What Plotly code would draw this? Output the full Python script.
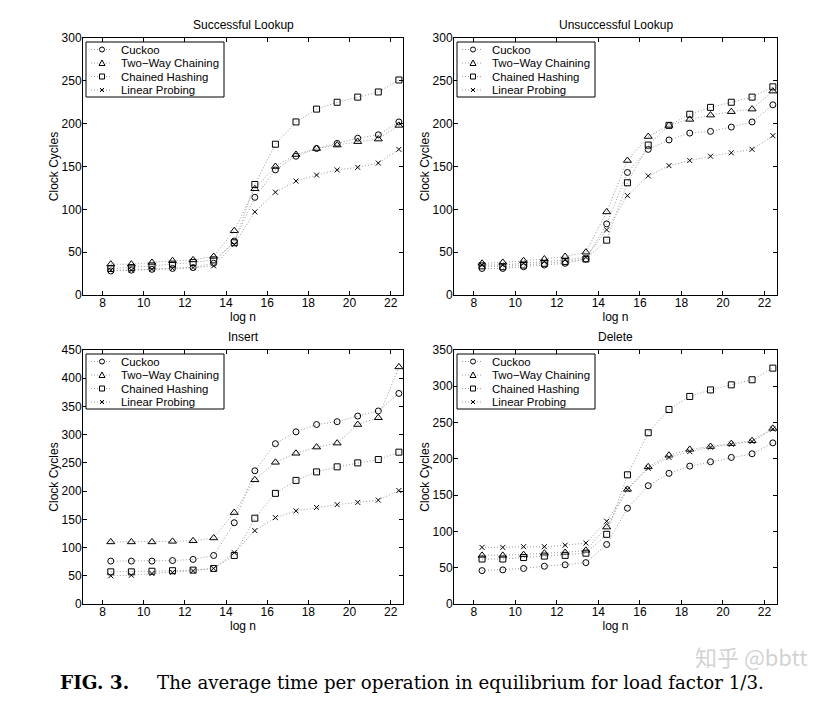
import plotly.graph_objects as go

log_n = [8.4, 9.4, 10.4, 11.4, 12.4, 13.4, 14.4, 15.4, 16.4, 17.4, 18.4, 19.4, 20.4, 21.4, 22.4]
series_names = ["Cuckoo", "Two\u2212Way Chaining", "Chained Hashing", "Linear Probing"]

succ_cuckoo = [28, 29, 30, 31, 32, 37, 63, 114, 146, 162, 171, 177, 183, 187, 202]
succ_twoway = [36, 36, 38, 40, 41, 45, 75, 124, 150, 164, 171, 175, 179, 182, 198]
succ_chained = [31, 32, 34, 36, 38, 41, 61, 129, 176, 202, 217, 225, 231, 237, 251]
succ_linear = [29, 29, 30, 31, 32, 34, 59, 97, 120, 133, 140, 146, 149, 154, 170]

unsucc_cuckoo = [31, 31, 33, 35, 37, 42, 83, 143, 170, 181, 189, 191, 196, 202, 222]
unsucc_twoway = [37, 38, 40, 42, 45, 50, 97, 157, 185, 198, 205, 210, 214, 217, 238]
unsucc_chained = [34, 33, 35, 37, 39, 42, 64, 131, 175, 198, 211, 219, 225, 231, 243]
unsucc_linear = [35, 35, 37, 39, 41, 44, 76, 116, 139, 151, 157, 162, 166, 170, 186]

ins_cuckoo = [76, 76, 76, 77, 79, 86, 144, 236, 284, 305, 318, 323, 333, 342, 373]
ins_twoway = [110, 110, 110, 111, 112, 117, 162, 220, 251, 267, 278, 285, 318, 330, 420]
ins_chained = [57, 57, 58, 59, 60, 63, 86, 152, 196, 219, 234, 243, 250, 256, 269]
ins_linear = [50, 51, 54, 56, 59, 63, 91, 130, 153, 165, 171, 176, 180, 184, 201]

del_cuckoo = [46, 47, 49, 52, 54, 57, 82, 132, 163, 180, 190, 196, 202, 207, 222]
del_twoway = [67, 67, 68, 70, 71, 74, 106, 158, 189, 205, 213, 217, 221, 225, 242]
del_chained = [62, 62, 64, 66, 67, 70, 96, 178, 236, 268, 286, 295, 302, 309, 325]
del_linear = [78, 78, 79, 79, 81, 84, 114, 158, 187, 202, 210, 216, 220, 224, 241]

panel_titles = ["Successful Lookup", "Unsuccessful Lookup", "Insert", "Delete"]
panel_data = [
    [succ_cuckoo, succ_twoway, succ_chained, succ_linear],
    [unsucc_cuckoo, unsucc_twoway, unsucc_chained, unsucc_linear],
    [ins_cuckoo, ins_twoway, ins_chained, ins_linear],
    [del_cuckoo, del_twoway, del_chained, del_linear],
]
y_max = [300, 300, 450, 350]
x_ticks = [8, 10, 12, 14, 16, 18, 20, 22]
caption_label = "FIG. 3."
caption_text = "The average time per operation in equilibrium for load factor 1/3."
watermark = "知乎 @bbtt"

W, H = 828, 711
# plot area boxes in pixels: (left, right, top, bottom)
boxes = [(83, 403, 38, 295), (454, 777, 38, 295), (83, 403, 350, 604), (454, 777, 350, 604)]
symbols = ["circle-open", "triangle-up-open", "square-open", "x-thin-open"]
sizes = [6, 7, 6, 5]
LINE_COLOR = "#9a9a9a"
DOT = "1px,2px"

FONT = "Liberation Sans, Arial, sans-serif"


def px(xp):
    return xp / W


def py(yp):
    return 1 - yp / H


fig = go.Figure()
annotations = []
shapes = []
layout = dict(
    width=W, height=H,
    margin=dict(l=0, r=0, t=0, b=0, pad=0, autoexpand=False),
    paper_bgcolor="white", plot_bgcolor="white",
    font=dict(family=FONT, size=12, color="black"),
    showlegend=False,
)

for i in range(4):
    xa = "x" if i == 0 else f"x{i+1}"
    ya = "y" if i == 0 else f"y{i+1}"
    for k in range(4):
        fig.add_trace(go.Scatter(
            x=log_n, y=panel_data[i][k], name=series_names[k],
            mode="lines+markers", xaxis=xa, yaxis=ya,
            line=dict(color=LINE_COLOR, width=1, dash=DOT),
            marker=dict(symbol=symbols[k], size=sizes[k], color="black",
                        line=dict(color="black", width=1)),
        ))
    l, r, t, b = boxes[i]
    axk = "xaxis" if i == 0 else f"xaxis{i+1}"
    ayk = "yaxis" if i == 0 else f"yaxis{i+1}"
    layout[axk] = dict(
        domain=[px(l), px(r)], range=[7.05, 22.6], anchor=ya,
        tickvals=x_ticks, ticks="inside", ticklen=4, tickcolor="black",
        showline=True, linecolor="black", linewidth=1, mirror="ticks",
        showgrid=False, zeroline=False, automargin=False, ticklabelstandoff=-3,
        title=dict(text="log n", font=dict(size=12), standoff=0),
        tickfont=dict(size=12),
    )
    layout[ayk] = dict(
        domain=[py(b), py(t)], range=[0, y_max[i]], anchor=xa,
        dtick=50, ticks="inside", ticklen=4, tickcolor="black",
        showline=True, linecolor="black", linewidth=1, mirror="ticks",
        showgrid=False, zeroline=False, automargin=False, ticklabelstandoff=-2,
        title=dict(text="Clock Cycles", font=dict(size=12), standoff=0),
        tickfont=dict(size=12),
    )
    annotations.append(dict(
        text=panel_titles[i], x=px((l + r) / 2), y=py(t - 13),
        xref="paper", yref="paper", showarrow=False,
        font=dict(size=12), xanchor="center", yanchor="middle",
    ))

    # legend box (MATLAB-style compact legend)
    shapes.append(dict(type="rect", xref="paper", yref="paper",
                       x0=px(l + 3), x1=px(l + 141), y0=py(t + 59), y1=py(t + 4),
                       line=dict(color="black", width=1), fillcolor="white", layer="above"))
    for k in range(4):
        yc = t + 11.5 + 13.5 * k
        shapes.append(dict(type="line", xref="paper", yref="paper",
                           x0=px(l + 8), x1=px(l + 29), y0=py(yc), y1=py(yc),
                           line=dict(color=LINE_COLOR, width=1, dash=DOT), layer="above"))
        mx, s = l + 19, 2.5
        mk = dict(xref="paper", yref="paper", line=dict(color="black", width=1),
                  layer="above")
        if k == 0:
            shapes.append(dict(type="circle", x0=px(mx - s), x1=px(mx + s),
                               y0=py(yc + s), y1=py(yc - s), fillcolor="white", **mk))
        elif k == 1:
            path = (f"M {px(mx - 3)},{py(yc + 2.5)} L {px(mx + 3)},{py(yc + 2.5)} "
                    f"L {px(mx)},{py(yc - 3)} Z")
            shapes.append(dict(type="path", path=path, fillcolor="white", **mk))
        elif k == 2:
            shapes.append(dict(type="rect", x0=px(mx - s), x1=px(mx + s),
                               y0=py(yc + s), y1=py(yc - s), fillcolor="white", **mk))
        else:
            path = (f"M {px(mx - 2)},{py(yc - 2)} L {px(mx + 2)},{py(yc + 2)} "
                    f"M {px(mx - 2)},{py(yc + 2)} L {px(mx + 2)},{py(yc - 2)}")
            shapes.append(dict(type="path", path=path, **mk))
        annotations.append(dict(
            text=series_names[k], x=px(l + 36), y=py(yc),
            xref="paper", yref="paper", showarrow=False,
            xanchor="left", yanchor="middle", font=dict(size=11.4),
        ))

annotations.append(dict(
    text=f"<b>{caption_label}</b>", x=px(58), y=py(682), xref="paper", yref="paper",
    showarrow=False, xanchor="left", yanchor="middle",
    font=dict(family="DejaVu Serif, serif", size=18.5, color="black"),
))
annotations.append(dict(
    text=caption_text, x=px(155), y=py(682), xref="paper", yref="paper",
    showarrow=False, xanchor="left", yanchor="middle",
    font=dict(family="DejaVu Serif, serif", size=18.2, color="black"),
))
annotations.append(dict(
    text=watermark, x=px(810), y=py(656), xref="paper", yref="paper",
    showarrow=False, xanchor="right", yanchor="middle",
    font=dict(family="Noto Sans CJK SC, sans-serif", size=22, color="rgba(195,195,195,0.75)"),
))

layout["annotations"] = annotations
layout["shapes"] = shapes
fig.update_layout(**layout)
fig.write_html("out.html", config={"displayModeBar": False},
               post_script="document.body.style.margin='0px';")
